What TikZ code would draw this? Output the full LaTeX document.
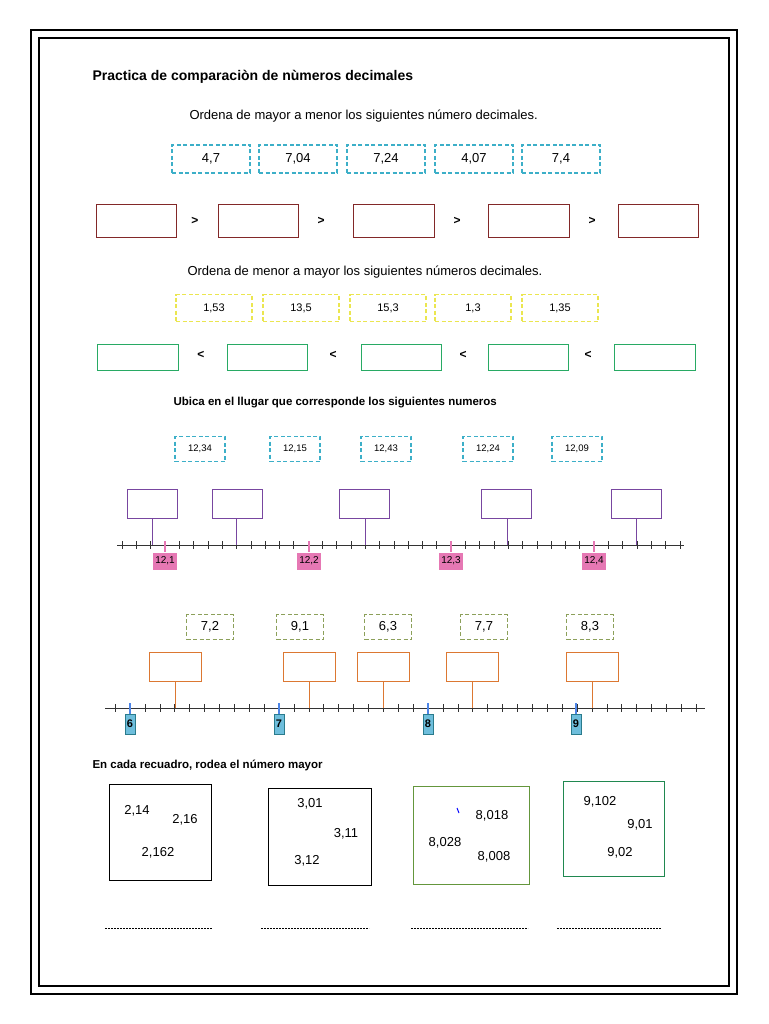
\documentclass[tikz,border=0pt]{standalone}
\usepackage{fontspec}
\setmainfont{Liberation Sans}
\begin{document}
\begin{tikzpicture}[x=1pt,y=-1pt,
 dbox/.style={draw=#1,dashed,line width=1.3pt,fill=white,dash pattern=on 4pt off 2.5pt},
 sol/.style={draw=#1,line width=1pt},
 lbl/.style={font=\fontsize{13}{15}\selectfont},
 sm/.style={font=\fontsize{11}{12}\selectfont},
 hd/.style={font=\bfseries\fontsize{11.5}{13}\selectfont,anchor=west},
 num/.style={font=\fontsize{13}{15}\selectfont}]
\definecolor{cy}{RGB}{60,175,200}\definecolor{rd}{RGB}{130,40,40}
\definecolor{yl}{RGB}{235,230,80}\definecolor{gr}{RGB}{40,170,100}
\definecolor{pu}{RGB}{120,70,160}\definecolor{pk}{RGB}{230,120,180}
\definecolor{or}{RGB}{220,120,50}\definecolor{ol}{RGB}{140,160,90}
\definecolor{lb}{RGB}{110,190,220}\definecolor{og}{RGB}{100,150,60}
\useasboundingbox (0,0) rectangle (768,1024);
\fill[white] (0,0) rectangle (768,1024);
\draw[line width=2.5pt] (31,30) rectangle (737,994);
\draw[line width=1.5pt] (39,38) rectangle (729,986);
\node[hd,font=\bfseries\fontsize{14}{16}\selectfont] (t) at (89,77) {Practica de comparaciòn de nùmeros decimales};
\node[lbl,anchor=west] (i1) at (186,116) {Ordena de mayor a menor los siguientes número decimales.};
\foreach \x/\t [count=\i] in {211/{4,7},298/{7,04},386/{7,24},474/{4,07},561/{7,4}}
 \node[dbox=cy,minimum width=78pt,minimum height=28pt,lbl] (c\i) at (\x,159) {\t};
\foreach \a/\b [count=\i] in {96/176,218/298,353/434,488/569,618/698}
 \draw[sol=rd] (\a,205) rectangle (\b,237) coordinate (r\i);
\foreach \x [count=\i] in {195,321,457,592} \node[font=\bfseries\large] (g\i) at (\x,221) {>};
\node[lbl,anchor=west] (i2) at (184,272) {Ordena de menor a mayor los siguientes números decimales.};
\foreach \x/\t [count=\i] in {214/{1,53},301/{13,5},388/{15,3},473/{1,3},560/{1,35}}
 \node[dbox=yl,minimum width=76pt,minimum height=27pt,sm] (y\i) at (\x,308) {\t};
\foreach \a/\b [count=\i] in {97/178,227/307,361/441,488/568,614/695}
 \draw[sol=gr] (\a,344) rectangle (\b,370) coordinate (gg\i);
\foreach \x [count=\i] in {201,333,463,588} \node[font=\bfseries\large] (l\i) at (\x,355) {<};
\node[hd] (h3) at (170,403) {Ubica en el llugar que corresponde los siguientes numeros};
\foreach \x/\t [count=\i] in {200/{12,34},295/{12,15},386/{12,43},488/{12,24},577/{12,09}}
 \node[dbox=cy,minimum width=50pt,minimum height=25pt,font=\fontsize{9.5}{10}\selectfont] (s\i) at (\x,449) {\t};
\draw[gray!40!black,line width=1pt] (117,545) -- (684,545);
\foreach \k in {0,...,39} \draw[gray!40!black] ({122+\k*14.3},541) -- ({122+\k*14.3},549);
\foreach \x/\s [count=\i] in {127/152,212/236,339/365,481/507,611/636}{
 \draw[pu,line width=1pt] (\x,489) rectangle ++(50,29);
 \draw[pu,line width=1pt] (\s,518) -- (\s,545);}
\foreach \x/\t [count=\i] in {165/{12,1},309/{12,2},451/{12,3},594/{12,4}}{
 \draw[pk,line width=2pt] (\x,541) -- (\x,552);
 \node[fill=pk,minimum width=24pt,minimum height=17pt,inner sep=1pt,font=\fontsize{10}{11}\selectfont] (p\i) at (\x,561) {\t};}
\foreach \x/\t [count=\i] in {210/{7,2},300/{9,1},388/{6,3},484/{7,7},590/{8,3}}
 \node[dbox=ol,minimum width=47pt,minimum height=25pt,lbl] (o\i) at (\x,627) {\t};
\draw[gray!40!black,line width=1pt] (105,708) -- (705,708);
\foreach \k in {0,...,39} \draw[gray!40!black] ({115+\k*14.9},704) -- ({115+\k*14.9},712);
\foreach \x/\s in {149/175,283/309,357/383,446/472,566/592}{
 \draw[or,line width=1pt] (\x,652) rectangle ++(52,29);
 \draw[or,line width=1pt] (\s,681) -- (\s,708);}
\foreach \x/\t [count=\i] in {130/6,279/7,428/8,576/9}{
 \draw[lb!70!blue,line width=2pt] (\x,703) -- (\x,714);
 \node[fill=lb,draw=cy!70!black,minimum width=10pt,minimum height=20pt,inner sep=1pt,font=\bfseries\fontsize{11}{12}\selectfont] (n\i) at (\x,724) {\t};}
\node[hd] (h4) at (89,765) {En cada recuadro, rodea el número mayor};
\draw[line width=1pt] (109,784) rectangle (211,880);
\draw[line width=1pt] (268,788) rectangle (371,885);
\draw[og,line width=1pt] (413,786) rectangle (529,884);
\draw[gr!80!black,line width=1pt] (563,781) rectangle (664,876);
\node[num] (a1) at (137,811) {2,14}; \node[num] (a2) at (185,820) {2,16}; \node[num] (a3) at (158,853) {2,162};
\node[num] (b1) at (310,804) {3,01}; \node[num] (b2) at (346,834) {3,11}; \node[num] (b3) at (307,861) {3,12};
\node[num] (d1) at (492,816) {8,018}; \node[num] (d2) at (445,843) {8,028}; \node[num] (d3) at (494,857) {8,008};
\node[num] (e1) at (600,802) {9,102}; \node[num] (e2) at (640,825) {9,01}; \node[num] (e3) at (620,853) {9,02};
\draw[blue,line width=1pt] (457,808) -- (459,813);
\foreach \a/\b in {105/212,261/369,411/528,557/661} \draw[dash pattern=on 2pt off 1pt,line width=0.6pt] (\a,928) -- (\b,928);
\end{tikzpicture}
\end{document}
